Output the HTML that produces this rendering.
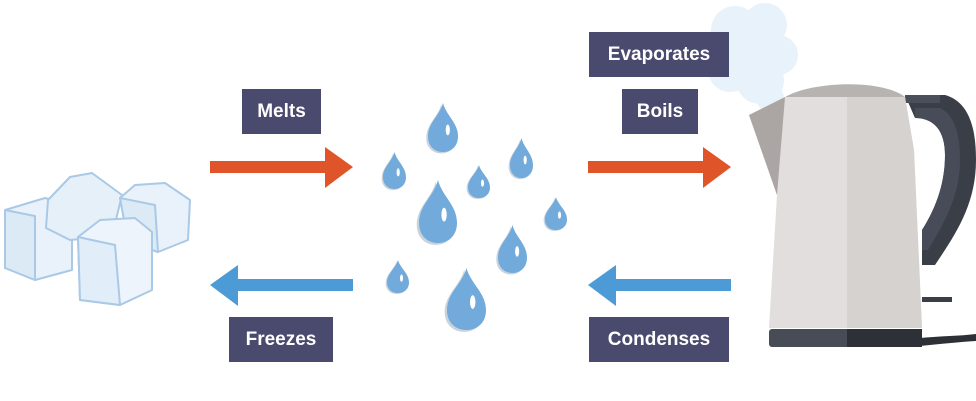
<!DOCTYPE html>
<html><head><meta charset="utf-8"><style>
html,body{margin:0;padding:0;background:#fff;}
body{width:976px;height:401px;position:relative;overflow:hidden;font-family:"Liberation Sans",sans-serif;}
.lb{position:absolute;background:#4a4a6e;color:#fff;font-weight:bold;font-size:19px;display:flex;align-items:center;justify-content:center;height:45px;}
svg{position:absolute;left:0;top:0;}
</style></head><body>
<svg width="976" height="401" viewBox="0 0 976 401">
<defs>
<g id="drop">
<path d="M0.5 0 C0.6 0.25 1 0.4 1 0.68 C1 0.88 0.78 1 0.5 1 C0.22 1 0 0.88 0 0.68 C0 0.4 0.4 0.25 0.5 0 Z" fill="#c9d3dc" transform="translate(-0.06,0.03)"/>
<path d="M0.5 0 C0.6 0.25 1 0.4 1 0.68 C1 0.88 0.78 1 0.5 1 C0.22 1 0 0.88 0 0.68 C0 0.4 0.4 0.25 0.5 0 Z" fill="#72aadb"/>
<ellipse cx="0.66" cy="0.55" rx="0.07" ry="0.11" fill="#fff"/>
</g>
</defs>
<!-- ice cubes -->
<g stroke="#a9c9e6" stroke-width="2" stroke-linejoin="round">
<polygon points="5,210 45,198 72,205 72,270 35,280 5,268" fill="#e9f2fa"/>
<polygon points="5,210 35,216 35,280 5,268" fill="#dceaf6"/>
<polygon points="48,200 70,177 92,173 122,195 112,236 70,240 46,228" fill="#e6f0f9"/>
<polygon points="120,198 135,185 165,183 190,200 188,240 158,252 128,242" fill="#e9f2fa"/>
<polygon points="120,198 155,205 158,252 128,242" fill="#dceaf6"/>
<polygon points="78,237 100,220 135,218 152,232 152,290 120,305 80,300" fill="#edf4fb"/>
<polygon points="78,237 115,245 120,305 80,300" fill="#e1edf8"/>
</g>
<!-- arrows -->
<g fill="#e0542a">
<rect x="210" y="161" width="118" height="12"/><polygon points="325,147 353,167 325,188"/>
<rect x="588" y="161" width="118" height="12"/><polygon points="703,147 731,167 703,188"/>
</g>
<g fill="#4d9bd6">
<rect x="235" y="279" width="118" height="12"/><polygon points="238,265 210,285 238,306"/>
<rect x="613" y="279" width="118" height="12"/><polygon points="616,265 588,285 616,306"/>
</g>
<!-- drops -->
<use href="#drop" transform="translate(428,103) scale(30,49)"/>
<use href="#drop" transform="translate(383,152) scale(23,37)"/>
<use href="#drop" transform="translate(510,138) scale(23,40)"/>
<use href="#drop" transform="translate(468,165) scale(22,33)"/>
<use href="#drop" transform="translate(419,180) scale(38,63)"/>
<use href="#drop" transform="translate(545,197) scale(22,33)"/>
<use href="#drop" transform="translate(498,225) scale(29,48)"/>
<use href="#drop" transform="translate(387,260) scale(22,33)"/>
<use href="#drop" transform="translate(447,268) scale(39,62)"/>
<!-- steam -->
<g fill="#e8f2fa">
<circle cx="735" cy="30" r="24"/><circle cx="765" cy="25" r="22"/><circle cx="778" cy="55" r="20"/>
<circle cx="760" cy="80" r="24"/><circle cx="730" cy="70" r="22"/><circle cx="770" cy="98" r="14"/>
<circle cx="752" cy="52" r="22"/>
</g>
<!-- kettle handle -->
<path d="M905 95 L945 95 C970 102 976 130 976 160 C976 205 955 235 935 265 L922 265 L922 230 C938 205 945 180 945 155 C945 132 935 118 915 118 Z" fill="#3a3e47"/>
<path d="M915 108 L940 108 C955 115 960 135 960 160 C960 195 945 222 928 250 L922 250 L922 230 C938 205 945 180 945 155 C945 132 935 118 915 118 Z" fill="#474c58"/>
<rect x="905" y="95" width="35" height="8" fill="#4a4f5a"/>
<rect x="922" y="297" width="30" height="5" fill="#3a3e47"/>
<!-- body -->
<path d="M749 115 L785 97 L905 97 L914 150 L922 328 L769 328 L777 195 Z" fill="#e1dedd"/>
<path d="M847 97 L905 97 L914 150 L922 328 L847 328 Z" fill="#d6d2cf"/>
<path d="M749 115 L785 97 L777 195 Z" fill="#aba6a3"/>
<path d="M785 97 C810 82 880 78 905 97 Z" fill="#b7b3b0"/>
<!-- base -->
<rect x="769" y="329" width="153" height="18" rx="3" fill="#474c56"/>
<rect x="847" y="329" width="75" height="18" fill="#2d3036"/>
<path d="M920 338 C940 336 960 336 976 334 L976 341 C960 342 940 344 920 346 Z" fill="#2d3036"/>
</svg>
<div class="lb" style="left:242px;top:89px;width:79px;">Melts</div>
<div class="lb" style="left:589px;top:32px;width:140px;">Evaporates</div>
<div class="lb" style="left:622px;top:89px;width:76px;">Boils</div>
<div class="lb" style="left:229px;top:317px;width:104px;">Freezes</div>
<div class="lb" style="left:589px;top:317px;width:140px;">Condenses</div>
</body></html>
